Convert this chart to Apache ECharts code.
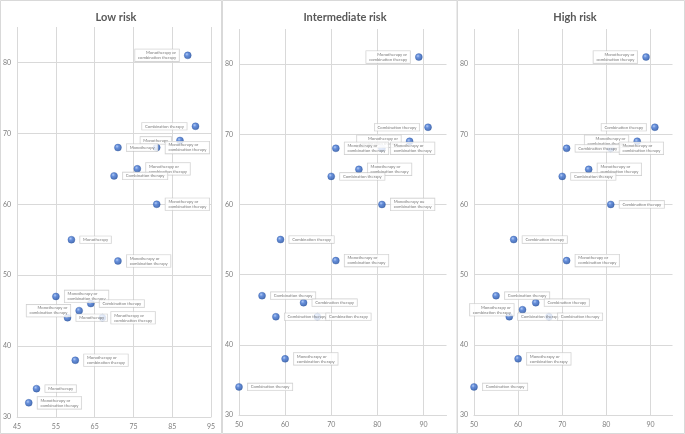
<!DOCTYPE html>
<html><head><meta charset="utf-8">
<script src="https://cdn.jsdelivr.net/npm/echarts@6/dist/echarts.min.js"></script>
<style>html,body{margin:0;padding:0;background:#fff}#c{width:685px;height:434px}</style>
</head><body><div id="c"></div>
<script>
const MC = 'Monotherapy or\ncombination therapy';
const MCou = 'Monotherapy ou\ncombination therapy';
const M = 'Monotherapy';
const C = 'Combination therapy';

const panelTitles = ['Low risk', 'Intermediate risk', 'High risk'];

const lowX = [89, 91, 87, 71, 81, 76, 70, 81, 59, 71, 55, 64, 61, 58, 67, 60, 50, 48];
const lowY = [81, 71, 69, 68, 68, 65, 64, 60, 55, 52, 47, 46, 45, 44, 44, 38, 34, 32];
const lowLabels = [MC, C, M, M, MC, MC, C, MC, M, MC, MC, C, MC, M, MC, MC, M, MC];

const intX = [89, 91, 87, 71, 81, 76, 70, 81, 59, 71, 55, 64, 58, 67, 60, 50];
const intY = [81, 71, 69, 68, 68, 65, 64, 60, 55, 52, 47, 46, 44, 44, 38, 34];
const intLabels = [MC, C, MC, MC, MC, MC, C, MCou, C, MC, C, C, C, C, MC, C];

const highX = [89, 91, 87, 71, 81, 76, 70, 81, 59, 71, 55, 64, 61, 58, 67, 60, 50];
const highY = [81, 71, 69, 68, 68, 65, 64, 60, 55, 52, 47, 46, 45, 44, 44, 38, 34];
const highLabels = [MC, C, MC, C, MC, MC, C, C, C, MC, C, C, MC, C, C, MC, C];

const xRanges = [[45, 95], [50, 95], [50, 95]];
const yRange = [30, 85];

// label side layout (separate from the data)
const lowSides  = ['left','left','left','right','right','right','right','right','right','right','right','right','left','right','right','right','right','right'];
const intSides  = ['left','left','left','right','right','right','right','right','right','right','right','right','right','right','right','right'];
const highSides = ['left','left','left','right','right','right','right','right','right','right','right','right','left','right','right','right','right'];

const panels = [
  {x: lowX, y: lowY, labels: lowLabels, sides: lowSides},
  {x: intX, y: intY, labels: intLabels, sides: intSides},
  {x: highX, y: highY, labels: highLabels, sides: highSides}
];

const grids = [
  {left: 17, top: 27, width: 194, height: 390},
  {left: 239, top: 29, width: 207.5, height: 386},
  {left: 474, top: 29, width: 198.5, height: 386}
];
const titleCenters = [111, 340, 570];
const frames = [[0.5, 221], [222.5, 234.5], [457.5, 227]];

const gray = '#d9d9d9';
const markerColor = {
  type: 'radial', x: 0.38, y: 0.35, r: 0.7,
  colorStops: [{offset: 0, color: '#9dbdf2'}, {offset: 0.35, color: '#3f72d2'}, {offset: 1, color: '#1c4a9c'}]
};

const chart = echarts.init(document.getElementById('c'), null, {renderer: 'canvas'});

const option = {
  animation: false,
  backgroundColor: '#fff',
  title: panelTitles.map((t, i) => ({
    text: t, left: titleCenters[i], top: 7, textAlign: 'center',
    textStyle: {fontFamily: 'Lato', fontWeight: 'bold', fontSize: 11, color: '#595959'}
  })),
  graphic: frames.map(f => ({
    type: 'rect', shape: {x: f[0], y: 0.5, width: f[1], height: 433},
    style: {fill: 'none', stroke: gray, lineWidth: 1}, silent: true, z: -1
  })),
  grid: grids,
  xAxis: xRanges.map((r, i) => ({
    type: 'value', gridIndex: i, min: r[0], max: r[1], interval: 10,
    axisLine: {show: true, lineStyle: {color: gray}},
    axisTick: {show: false},
    axisLabel: {fontSize: 7, color: '#7f7f7f', margin: 6, fontFamily: 'Lato', showMaxLabel: i === 0},
    splitLine: {show: true, showMaxLine: i === 0, lineStyle: {color: gray, width: 1}}
  })),
  yAxis: grids.map((g, i) => ({
    type: 'value', gridIndex: i, min: yRange[0], max: yRange[1], interval: 10,
    axisLine: {show: false}, axisTick: {show: false},
    axisLabel: {fontSize: 7, color: '#7f7f7f', margin: 6, fontFamily: 'Lato', showMaxLabel: false},
    splitLine: {show: true, showMaxLine: false, lineStyle: {color: gray, width: 1}}
  })),
  series: panels.map((p, i) => ({
    type: 'scatter', xAxisIndex: i, yAxisIndex: i,
    symbol: 'circle', symbolSize: 7,
    itemStyle: {color: markerColor, borderColor: '#24509c', borderWidth: 0.4},
    data: p.x.map((xv, k) => ({
      value: [xv, p.y[k]],
      label: {position: p.sides[k]},
      name: p.labels[k]
    })),
    label: {
      show: true, formatter: d => d.name, distance: 5,
      fontSize: 4.2, lineHeight: 5, fontFamily: 'Lato', color: '#595959',
      backgroundColor: '#fff', borderColor: '#bfbfbf', borderWidth: 0.6,
      padding: [1, 3]
    }
  }))
};
chart.setOption(option);
</script>
</body></html>
